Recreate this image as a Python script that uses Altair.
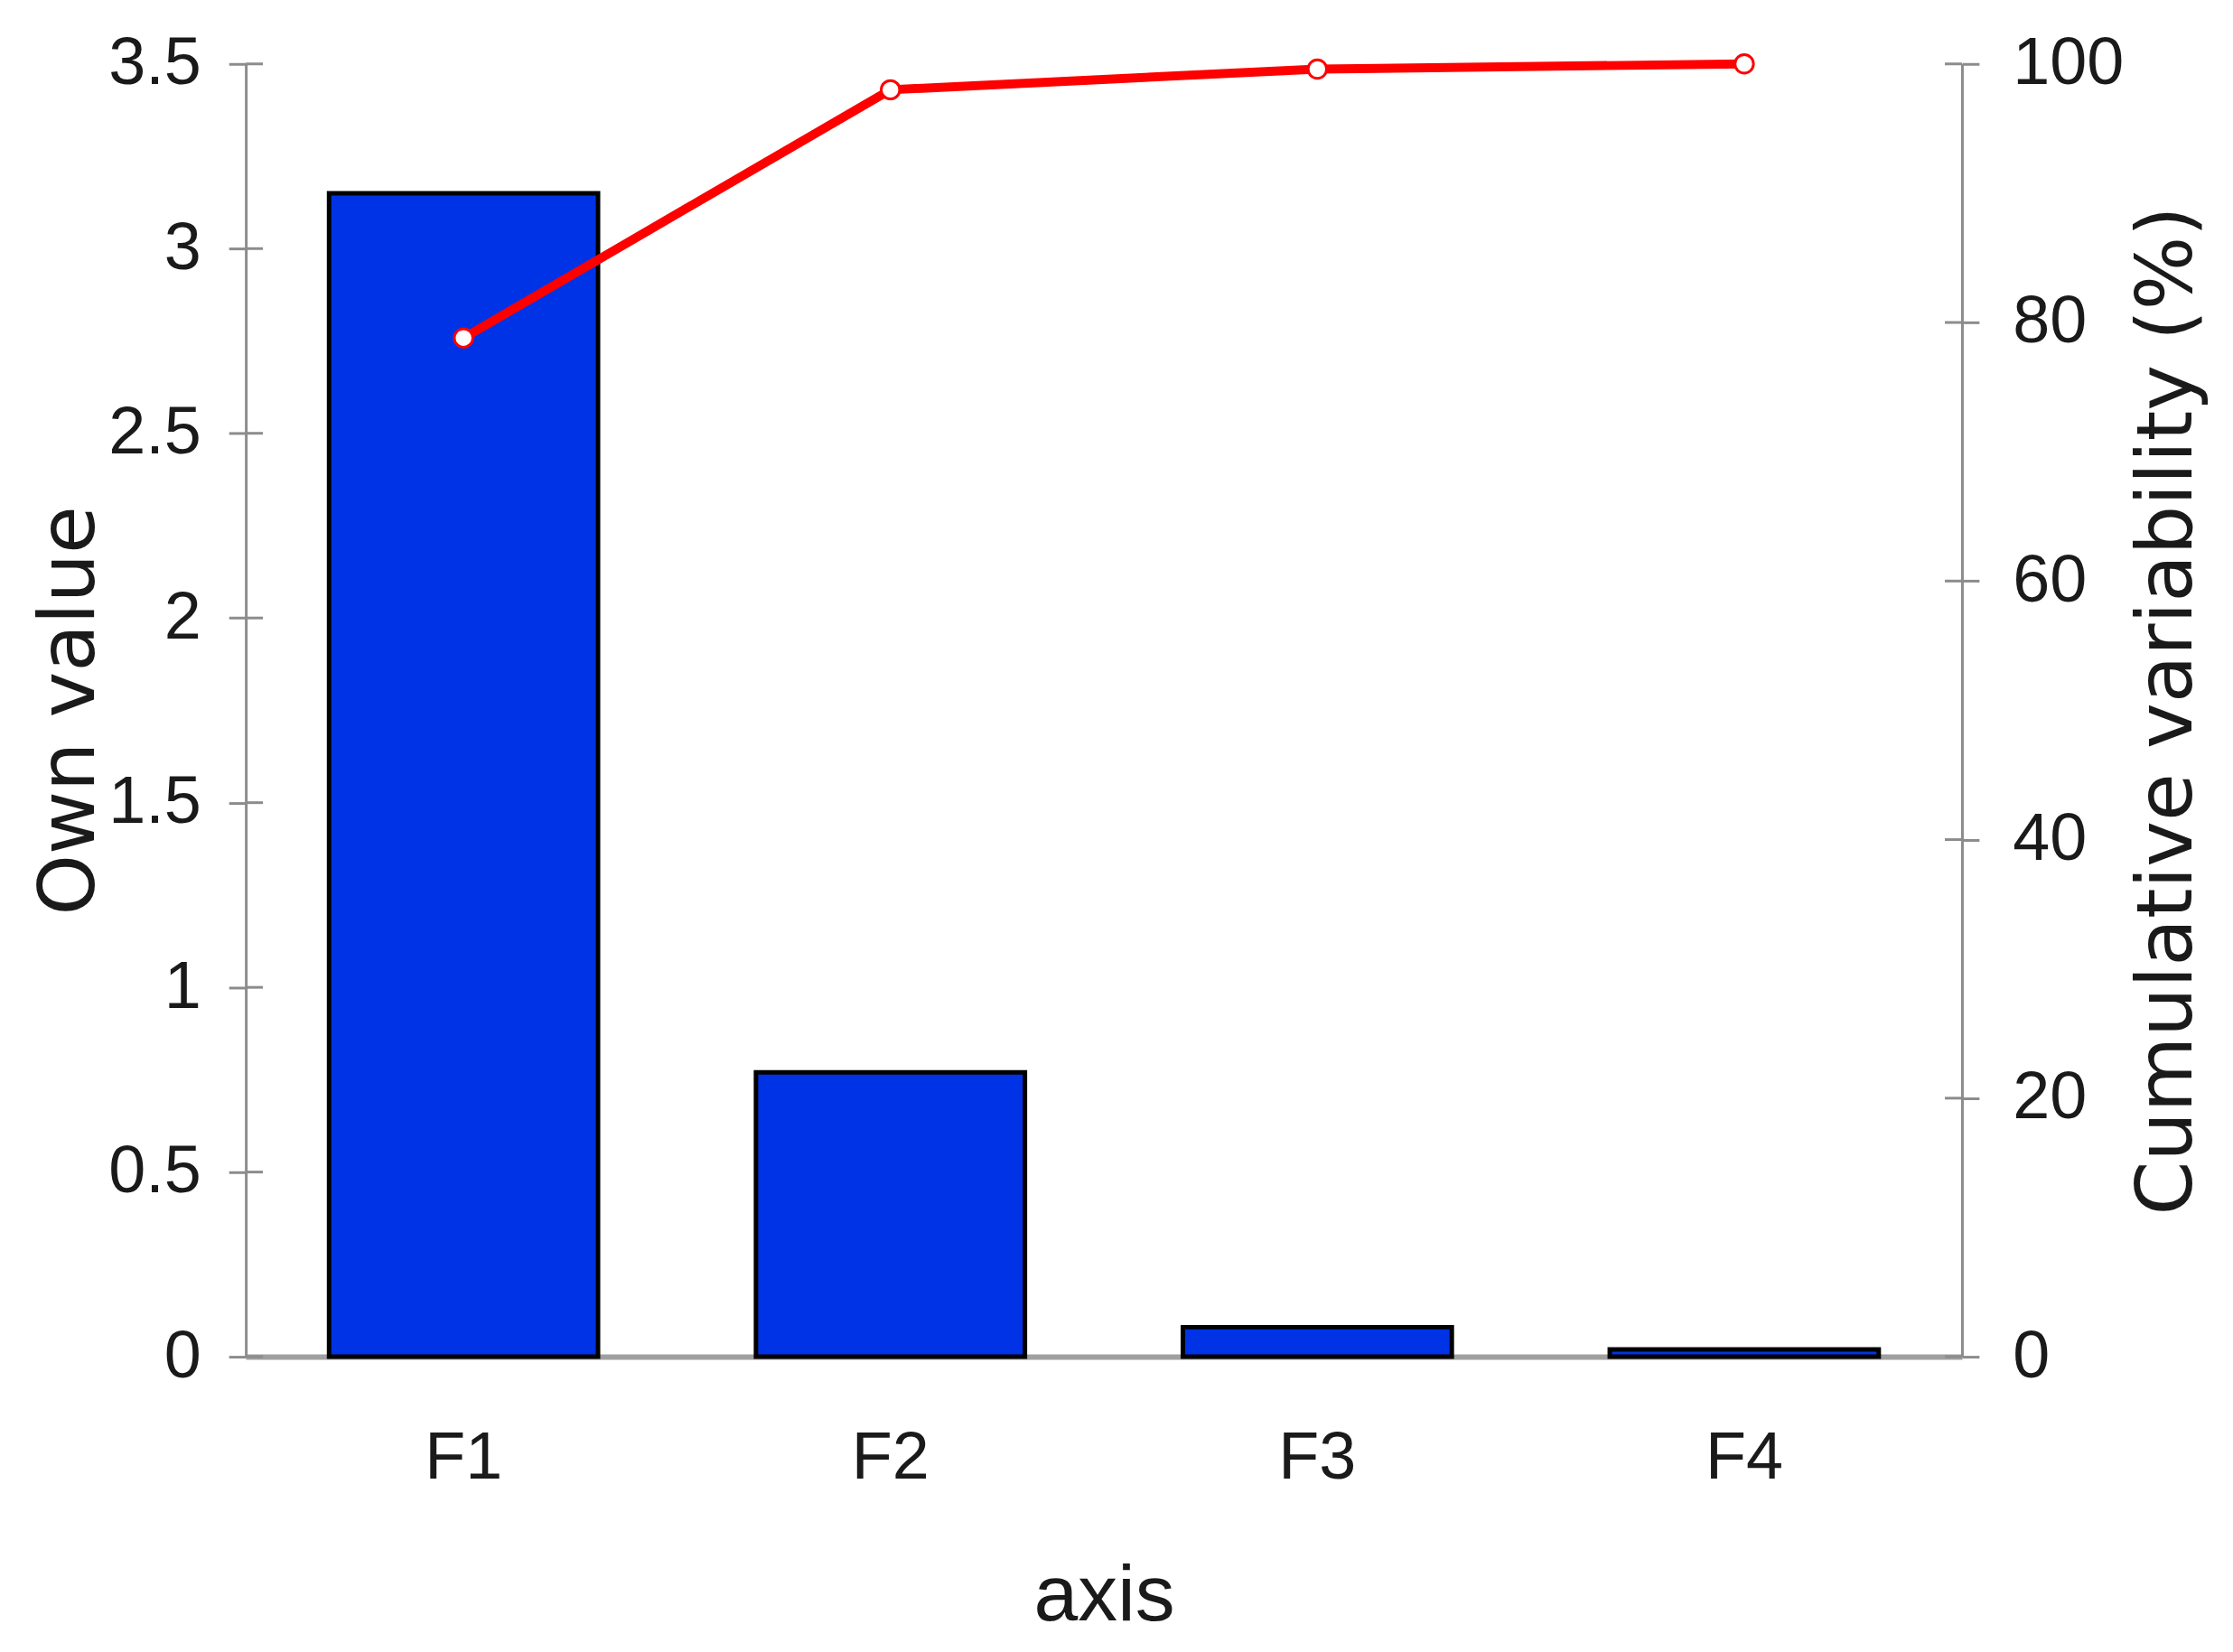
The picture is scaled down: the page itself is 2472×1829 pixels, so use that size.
import altair as alt
import pandas as pd

factors = ["F1", "F2", "F3", "F4"]
eigenvalues = [3.15, 0.77, 0.08, 0.02]
cumulative = [78.8, 98.0, 99.6, 100.0]
left_ticks = [0, 0.5, 1, 1.5, 2, 2.5, 3, 3.5]
right_ticks = [0, 20, 40, 60, 80, 100]

W = 1906
H = 1436

df = pd.DataFrame({"factor": factors, "eig": eigenvalues, "cum": cumulative})
df_lt = pd.DataFrame({"t": left_ticks})
df_rt = pd.DataFrame({"t": right_ticks})

LABEL_FONT = "Liberation Sans Narrow, Liberation Sans, Arial, sans-serif"
TITLE_FONT = "DejaVu Sans, Verdana, sans-serif"
AXIS_GRAY = "#8c8c8c"
TEXT = "#1a1a1a"

x_enc = alt.X(
    "factor:N",
    sort=factors,
    scale=alt.Scale(paddingInner=0.37, paddingOuter=0.195),
    axis=alt.Axis(
        title="axis",
        labelAngle=0,
        ticks=False,
        tickSize=0,
        labelPadding=77,
        labelFont=LABEL_FONT,
        labelFontSize=74,
        labelColor=TEXT,
        titleFont=LABEL_FONT,
        titleFontSize=88,
        titleFontWeight="normal",
        titleColor=TEXT,
        titleY=266,
        titleBaseline="middle",
        domainColor="#a0a0a0",
        domainWidth=6,
    ),
)

left_axis = alt.Axis(
    title="Own value",
    orient="left",
    values=left_ticks,
    format="~g",
    grid=False,
    domainColor=AXIS_GRAY,
    domainWidth=3,
    tickColor=AXIS_GRAY,
    tickWidth=3,
    tickSize=19,
    labelPadding=31,
    labelFont=LABEL_FONT,
    labelFontSize=74,
    labelColor=TEXT,
    titleFont=TITLE_FONT,
    titleFontSize=86,
    titleFontWeight="normal",
    titleColor=TEXT,
    titleAngle=270,
    titleX=-195,
    titleBaseline="middle",
)

right_axis = alt.Axis(
    title="Cumulative variability (%)",
    orient="right",
    values=right_ticks,
    grid=False,
    domainColor=AXIS_GRAY,
    domainWidth=3,
    tickColor=AXIS_GRAY,
    tickWidth=3,
    tickSize=19,
    labelPadding=37,
    labelFont=LABEL_FONT,
    labelFontSize=74,
    labelColor=TEXT,
    titleFont=TITLE_FONT,
    titleFontSize=86,
    titleFontWeight="normal",
    titleColor=TEXT,
    titleAngle=270,
    titleX=228,
    titleBaseline="middle",
)

left_scale = alt.Scale(domain=[0, 3.5], nice=False)
right_scale = alt.Scale(domain=[0, 100], nice=False)

bars = alt.Chart(df).mark_bar(color="#0033E6", stroke="black", strokeWidth=5).encode(
    x=x_enc,
    y=alt.Y("eig:Q", scale=left_scale, axis=left_axis),
)

left_inner_ticks = alt.Chart(df_lt).mark_rule(color=AXIS_GRAY, strokeWidth=3).encode(
    y=alt.Y("t:Q", scale=left_scale, axis=left_axis),
    x=alt.value(0),
    x2=alt.value(19),
)

line = alt.Chart(df).mark_line(
    color="#ff0000",
    strokeWidth=10,
    point=alt.OverlayMarkDef(shape="circle", filled=False, fill="white", stroke="#ff0000", strokeWidth=3, size=420),
).encode(
    x=alt.X("factor:N", sort=factors),
    y=alt.Y("cum:Q", scale=right_scale, axis=right_axis),
)

right_inner_ticks = alt.Chart(df_rt).mark_rule(color=AXIS_GRAY, strokeWidth=3).encode(
    y=alt.Y("t:Q", scale=right_scale, axis=right_axis),
    x=alt.value(W - 19),
    x2=alt.value(W),
)

chart = (
    alt.layer(
        alt.layer(bars, left_inner_ticks),
        alt.layer(right_inner_ticks, line),
    )
    .resolve_scale(y="independent")
    .properties(
        width=W,
        height=H,
        autosize=alt.AutoSizeParams(type="none"),
        padding={"left": 265, "top": 60, "right": 2472 - 8 - 265 - W, "bottom": 1829 - 8 - 60 - H},
        background="white",
    )
    .configure_view(stroke=None)
)

chart.save("out.html", embed_options={"renderer": "svg", "actions": False})
